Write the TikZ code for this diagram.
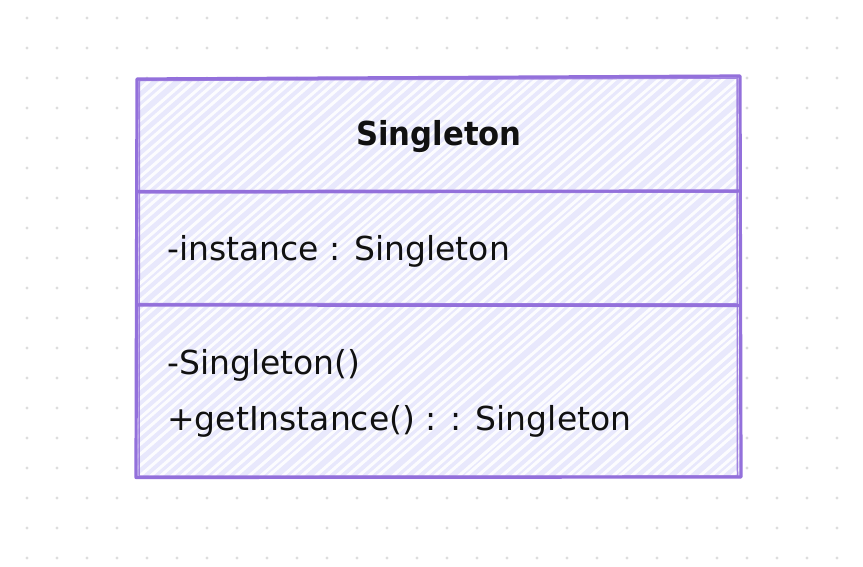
\documentclass[tikz,border=0pt]{standalone}
\usepackage{fontspec}
\setmainfont{DejaVu Sans}[BoldFeatures={FakeStretch=0.93}]
\definecolor{umlfill}{HTML}{E8E8FC}
\definecolor{umlline}{HTML}{9370DB}
\definecolor{dotc}{HTML}{DDDDDD}
\definecolor{txt}{HTML}{111111}
\tikzset{
  griddot/.style={fill=dotc},
  hatchline/.style={draw=white, line width=3pt, opacity=0.9},
  border/.style={draw=umlline, line width=3.2pt, line cap=round, line join=round},
  border2/.style={draw=umlline, line width=1.5pt, line cap=round, opacity=0.85},
  label/.style={inner sep=0pt, anchor=base west, text=txt, font=\fontsize{33}{36}\selectfont},
  titlelabel/.style={inner sep=0pt, anchor=base, text=txt, font=\fontsize{33}{36}\selectfont\bfseries},
}
\begin{document}
\begin{tikzpicture}[x=1pt,y=-1pt]
\useasboundingbox (0,0) rectangle (863,567);
\fill[white] (0,0) rectangle (863,567);
\foreach \i in {0,...,28}{
  \foreach \j in {0,...,18}{
    \fill[griddot] (27+30*\i,18+30*\j) circle (1.7);
  }
}
% fill
\fill[umlfill] (137,78) rectangle (740,477);
\begin{scope}
  \clip (137,78) rectangle (740,477);
  \pgfmathsetseed{7}
  \foreach \k in {0,...,100}{
    \pgfmathsetmacro{\xo}{137-470+\k*11+rnd*4}
    \draw[hatchline] (\xo,482) -- (\xo+470,72);
  }
\end{scope}
% borders
\draw[border] (137,79) -- (740,76) -- (741,477) -- (136,477.5) -- cycle;
\draw[border2] (139.5,80.5) -- (737,78) -- (737.5,476) -- (139,476) -- cycle;
\draw[border] (137,191.5) -- (740,191);
\draw[border2] (139,193) -- (737,192);
\draw[border] (137,305) -- (740,305.5);
\draw[border2] (139,303.5) -- (737,304);
% texts
\node[titlelabel] (title) at (439,146) {Singleton};
\node[label] (attr) at (167,260) {-instance : Singleton};
\node[label] (ctor) at (167,374) {-Singleton()};
\node[label] (meth) at (167,430) {+getInstance() : : Singleton};
\end{tikzpicture}
\end{document}
